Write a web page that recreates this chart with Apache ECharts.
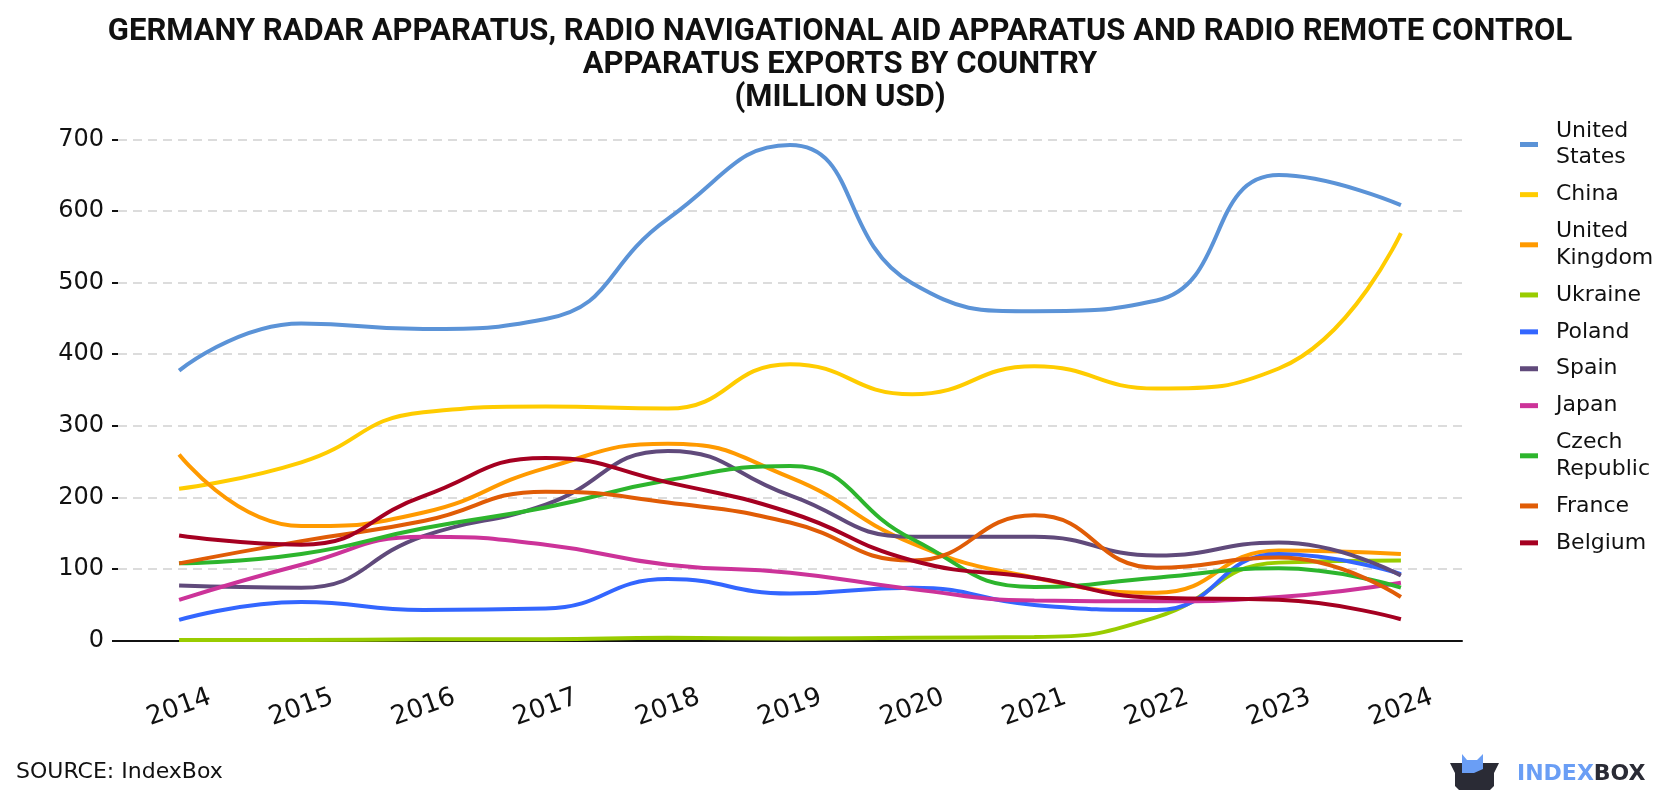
<!DOCTYPE html>
<html>
<head>
<meta charset="utf-8">
<title>Germany radar apparatus exports by country</title>
<script src="https://cdn.jsdelivr.net/npm/echarts/dist/echarts.min.js"></script>
<style>
    html, body { margin: 0; padding: 0; background: #fff; }
    #chart { width: 1680px; height: 800px; }
</style>
</head>
<body>
<div id="chart"></div>
<script>
    // 数据 (million USD)
    var years = ['2014', '2015', '2016', '2017', '2018', '2019', '2020', '2021', '2022', '2023', '2024'];
    var unitedStates = [377, 443, 435, 449, 589, 692, 499, 460, 475, 650, 608];
    var china = [212, 249, 319, 327, 324, 386, 344, 383, 352, 380, 569];
    var unitedKingdom = [260, 160, 179, 241, 275, 228, 136, 88, 67, 126, 121];
    var ukraine = [1, 1, 2, 2, 4, 3, 4, 5, 33, 109, 112];
    var poland = [29, 54, 43, 45, 86, 66, 74, 50, 43, 121, 93];
    var spain = [77, 74, 146, 190, 265, 203, 145, 145, 119, 137, 91];
    var japan = [57, 106, 145, 134, 106, 95, 72, 56, 55, 61, 81];
    var czechRepublic = [108, 121, 157, 186, 224, 244, 142, 75, 88, 101, 74];
    var france = [108, 139, 167, 208, 193, 165, 112, 175, 102, 116, 61];
    var belgium = [147, 134, 202, 255, 221, 179, 112, 88, 60, 57, 30];
    var yTicks = [0, 700, 100]; // min, max, interval

    var names = ['United States', 'China', 'United Kingdom', 'Ukraine', 'Poland', 'Spain', 'Japan', 'Czech Republic', 'France', 'Belgium'];
    var values = [unitedStates, china, unitedKingdom, ukraine, poland, spain, japan, czechRepublic, france, belgium];
    var colors = ['#5b93d7', '#ffcc00', '#ff9a00', '#99cc00', '#3366ff', '#604a7b', '#cc3399', '#2db52d', '#e05c06', '#a50021'];

    var oDiv = document.getElementById('chart');
    var myChart = echarts.init(oDiv, null, {renderer: 'canvas'});

    var series = [];
    for (var i = 0; i < names.length; i++) {
        series.push({
            name: names[i],
            type: 'line',
            data: values[i],
            smooth: 0.5,
            symbol: 'none',
            lineStyle: {width: 4, color: colors[i]},
            itemStyle: {color: colors[i]}
        });
    }

    var font = '"DejaVu Sans"';

    option = {
        animation: false,
        backgroundColor: '#fff',
        color: colors,
        title: {
            text: 'GERMANY RADAR APPARATUS, RADIO NAVIGATIONAL AID APPARATUS AND RADIO REMOTE CONTROL\nAPPARATUS EXPORTS BY COUNTRY\n(MILLION USD)',
            left: 'center',
            top: 11,
            textStyle: {
                fontFamily: 'Roboto',
                fontSize: 31,
                fontWeight: 'bold',
                color: '#111',
                lineHeight: 33
            }
        },
        legend: {
            orient: 'vertical',
            left: 1520,
            top: 118,
            padding: 0,
            icon: 'rect',
            itemWidth: 18,
            itemHeight: 5,
            itemGap: 10.4,
            data: names,
            formatter: function (name) {
                return name.replace(' ', '\n');
            },
            textStyle: {
                fontFamily: font,
                fontSize: 22,
                lineHeight: 26.5,
                color: '#111',
                padding: [0, 0, 0, 13]
            }
        },
        grid: {
            left: 118,
            right: 218,
            top: 139.3,
            bottom: 159.3,
            containLabel: false
        },
        xAxis: {
            type: 'category',
            data: years,
            boundaryGap: true,
            offset: 21,
            axisLine: {lineStyle: {color: '#111', width: 2}},
            axisTick: {alignWithLabel: true, length: 7, lineStyle: {color: '#111', width: 2}},
            axisLabel: {
                rotate: 20,
                align: 'center',
                verticalAlign: 'middle',
                margin: 46,
                fontFamily: font,
                fontSize: 26,
                color: '#111'
            },
            splitLine: {show: false}
        },
        yAxis: {
            type: 'value',
            min: yTicks[0],
            max: yTicks[1],
            interval: yTicks[2],
            axisLine: {show: false},
            axisTick: {show: true, length: 6, lineStyle: {color: '#111', width: 2}},
            axisLabel: {
                margin: 14,
                fontFamily: font,
                fontSize: 24,
                color: '#111'
            },
            splitLine: {lineStyle: {color: '#dcdcdc', width: 2, type: [9, 6]}}
        },
        graphic: [
            {
                type: 'text',
                left: 16,
                top: 761,
                style: {text: 'SOURCE: IndexBox', font: '22px "DejaVu Sans"', fill: '#111'}
            },
            // logo
            {
                type: 'polygon',
                shape: {points: [[1450, 763], [1499, 763], [1494, 773], [1494, 786], [1490, 790], [1459, 790], [1455, 786], [1455, 773]]},
                style: {fill: '#2a2b35'}
            },
            {
                type: 'polygon',
                shape: {points: [[1462, 754], [1467, 760], [1477, 760], [1483, 754], [1483, 769], [1474, 773], [1462, 773]]},
                style: {fill: '#6a9ef5'}
            },
            {
                type: 'text',
                left: 1517,
                top: 763,
                style: {
                    text: '{a|INDEX}{b|BOX}',
                    rich: {
                        a: {font: 'bold 22px "DejaVu Sans"', fill: '#6a9ef5'},
                        b: {font: 'bold 22px "DejaVu Sans"', fill: '#2a2b35'}
                    }
                }
            }
        ],
        series: series
    };

    myChart.setOption(option);
</script>
</body>
</html>
